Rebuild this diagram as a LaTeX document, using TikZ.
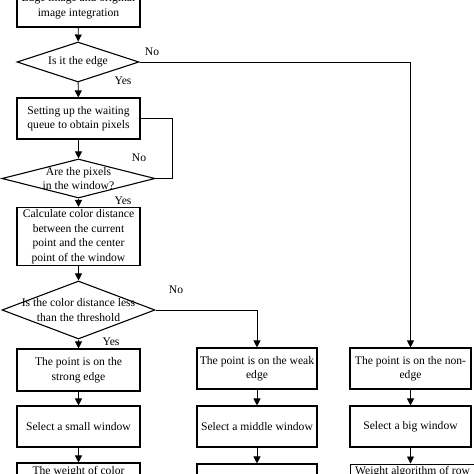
\documentclass[tikz,border=0pt]{standalone}
\usepackage{fontspec}
\setmainfont{Liberation Serif}
\usetikzlibrary{shapes.geometric,arrows.meta}
\begin{document}
\begin{tikzpicture}[x=1pt,y=-1pt,
  box/.style={draw,line width=1.1pt,rectangle,inner sep=0pt,align=center,
    font=\fontsize{11.6}{14.5}\selectfont},
  dia/.style={draw,line width=1.1pt,diamond,inner sep=0pt},
  txt/.style={inner sep=0pt,align=center,font=\fontsize{11.6}{14.5}\selectfont},
  lbl/.style={inner sep=0pt,font=\fontsize{11.6}{12}\selectfont},
  conn/.style={line width=0.9pt},
  arr/.style={line width=0.9pt,-{Triangle[width=7pt,length=7pt]}}]
\useasboundingbox (0,0) rectangle (474,474);
\clip (0,0) rectangle (474,474);
% left column
\node[box,minimum width=123pt,minimum height=42pt] (b0) at (78.5,6) {Edge image and original\\image integration};
\node[dia,minimum width=122pt,minimum height=40pt] (d1) at (78,62) {};
\node[txt] at (d1.center) {Is it the edge};
\node[box,minimum width=123pt,minimum height=41pt] (b1) at (78.5,118.5) {Setting up the waiting\\queue to obtain pixels};
\node[dia,minimum width=153pt,minimum height=39pt] (d2) at (78.5,178.5) {};
\node[txt] at (d2.center) {Are the pixels\\in the window?};
\node[box,minimum width=123pt,minimum height=58pt] (b2) at (78.5,236.5) {Calculate color distance\\between the current\\point and the center\\point of the window};
\node[dia,minimum width=153pt,minimum height=58pt] (d3) at (78.5,310) {};
\node[txt] at (d3.center) {Is the color distance less\\than the threshold};
\node[box,minimum width=123pt,minimum height=42pt] (b4) at (78.5,370) {The point is on the\\strong edge};
\node[box,minimum width=123pt,minimum height=41pt] (b5) at (78.5,426.5) {Select a small window};
\node[box,minimum width=123pt,minimum height=60pt] (b6) at (78.5,493) {};
\node[txt] at (78.5,472) {The weight of color};
% middle column
\node[box,minimum width=120pt,minimum height=41pt] (m1) at (257,368.5) {The point is on the weak\\edge};
\node[box,minimum width=120pt,minimum height=41pt] (m2) at (257,426.5) {Select a middle window};
\node[box,minimum width=120pt,minimum height=60pt] (m3) at (257,494) {};
% right column
\node[box,minimum width=121pt,minimum height=41pt] (r1) at (410.5,368.5) {The point is on the non-\\edge};
\node[box,minimum width=121pt,minimum height=41pt] (r2) at (410.5,426.5) {Select a big window};
\node[box,minimum width=180pt,minimum height=60pt,anchor=north west] (r3) at (349.5,463.5) {};
\node[txt,anchor=west] at (355,472) {Weight algorithm of row};
% connectors
\draw[arr] (b0) -- (d1);
\draw[arr] (d1) -- (b1);
\draw[arr] (b1) -- (d2);
\draw[arr] (d2) -- (b2);
\draw[arr] (b2) -- (d3);
\draw[arr] (d3) -- (b4);
\draw[arr] (b4) -- (b5);
\draw[arr] (b5) -- (b6);
\draw[arr] (m1) -- (m2);
\draw[arr] (m2) -- (m3);
\draw[arr] (r1) -- (r2);
\draw[arr] (r2) -- (r3.north -| r2.south);
\draw[arr] (d1.east) -| (r1.north);
\draw[arr] (d3.east) -| (m1.north);
\draw[conn] (d2.east) -- (172,178.5) |- (b1.east);
% labels
\node[lbl] at (152,52) {No};
\node[lbl] at (123,81) {Yes};
\node[lbl] at (139,158) {No};
\node[lbl] at (123,201) {Yes};
\node[lbl] at (176,290) {No};
\node[lbl] at (111,342) {Yes};
\end{tikzpicture}
\end{document}
